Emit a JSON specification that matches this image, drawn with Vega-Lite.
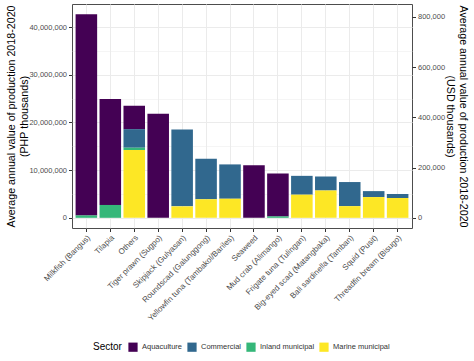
{
  "$schema": "https://vega.github.io/schema/vega-lite/v6.json",
  "autosize": {"type": "none"},
  "width": 340,
  "height": 224,
  "padding": {"left": 72, "top": 4, "right": 62, "bottom": 133},
  "background": "white",
  "config": {
    "font": "Liberation Sans",
    "view": {"stroke": "#4d4d4d", "strokeWidth": 1},
    "axis": {
      "domain": false,
      "labelColor": "#4d4d4d",
      "labelFontSize": 8,
      "titleFontSize": 10.7,
      "titleFontWeight": "normal",
      "titleColor": "black",
      "tickColor": "#333333",
      "tickSize": 3.5,
      "labelPadding": 2,
      "gridColor": "#ebebeb"
    }
  },
  "data": {
    "values": [
      {"species": "Milkfish (Bangus)", "sector": "Aquaculture", "value": 42200000},
      {"species": "Milkfish (Bangus)", "sector": "Inland municipal", "value": 500000},
      {"species": "Tilapia", "sector": "Aquaculture", "value": 22200000},
      {"species": "Tilapia", "sector": "Inland municipal", "value": 2700000},
      {"species": "Others", "sector": "Aquaculture", "value": 4900000},
      {"species": "Others", "sector": "Commercial", "value": 3900000},
      {"species": "Others", "sector": "Inland municipal", "value": 500000},
      {"species": "Others", "sector": "Marine municipal", "value": 14200000},
      {"species": "Tiger prawn (Sugpo)", "sector": "Aquaculture", "value": 21800000},
      {"species": "Skipjack (Gulyasan)", "sector": "Commercial", "value": 16100000},
      {"species": "Skipjack (Gulyasan)", "sector": "Marine municipal", "value": 2400000},
      {"species": "Roundscad (Galunggong)", "sector": "Commercial", "value": 8500000},
      {"species": "Roundscad (Galunggong)", "sector": "Marine municipal", "value": 3900000},
      {"species": "Yellowfin tuna (Tambakol/Bariles)", "sector": "Commercial", "value": 7200000},
      {"species": "Yellowfin tuna (Tambakol/Bariles)", "sector": "Marine municipal", "value": 4000000},
      {"species": "Seaweed", "sector": "Aquaculture", "value": 11000000},
      {"species": "Mud crab (Alimango)", "sector": "Aquaculture", "value": 9000000},
      {"species": "Mud crab (Alimango)", "sector": "Inland municipal", "value": 300000},
      {"species": "Frigate tuna (Tulingan)", "sector": "Commercial", "value": 3950000},
      {"species": "Frigate tuna (Tulingan)", "sector": "Marine municipal", "value": 4850000},
      {"species": "Big-eyed scad (Matangbaka)", "sector": "Commercial", "value": 2900000},
      {"species": "Big-eyed scad (Matangbaka)", "sector": "Marine municipal", "value": 5750000},
      {"species": "Bali sardinella (Tamban)", "sector": "Commercial", "value": 5050000},
      {"species": "Bali sardinella (Tamban)", "sector": "Marine municipal", "value": 2450000},
      {"species": "Squid (Pusit)", "sector": "Commercial", "value": 1250000},
      {"species": "Squid (Pusit)", "sector": "Marine municipal", "value": 4350000},
      {"species": "Threadfin bream (Bisugo)", "sector": "Commercial", "value": 850000},
      {"species": "Threadfin bream (Bisugo)", "sector": "Marine municipal", "value": 4150000}
    ]
  },
  "layer": [
    {
      "mark": {"type": "bar"},
      "encoding": {
        "x": {
          "field": "species",
          "type": "nominal",
          "sort": ["Milkfish (Bangus)", "Tilapia", "Others", "Tiger prawn (Sugpo)", "Skipjack (Gulyasan)", "Roundscad (Galunggong)", "Yellowfin tuna (Tambakol/Bariles)", "Seaweed", "Mud crab (Alimango)", "Frigate tuna (Tulingan)", "Big-eyed scad (Matangbaka)", "Bali sardinella (Tamban)", "Squid (Pusit)", "Threadfin bream (Bisugo)"],
          "scale": {"paddingInner": 0.1, "paddingOuter": 0.15},
          "axis": {
            "title": null,
            "labelAngle": -45,
            "labelAlign": "right",
            "labelBaseline": "top",
            "bandPosition": 0.5,
            "grid": true,
            "gridWidth": 1
          }
        },
        "y": {
          "field": "value",
          "type": "quantitative",
          "stack": "zero",
          "scale": {"domain": [-2135000, 44835000], "nice": false, "zero": false},
          "axis": {
            "values": [0, 5000000, 10000000, 15000000, 20000000, 25000000, 30000000, 35000000, 40000000],
            "labelExpr": "datum.value % 10000000 === 0 ? format(datum.value, ',d') : ''",
            "labelFontSize": 7.5,
            "tickOpacity": {"condition": {"test": "datum.value % 10000000 !== 0", "value": 0}, "value": 1},
            "gridWidth": {"condition": {"test": "datum.value % 10000000 !== 0", "value": 0.5}, "value": 1},
            "grid": true,
            "titlePadding": -1,
            "titleLineHeight": 13,
            "title": ["Average annual value of production 2018-2020", "(PHP thousands)"]
          }
        },
        "color": {
          "field": "sector",
          "type": "nominal",
          "scale": {
            "domain": ["Aquaculture", "Commercial", "Inland municipal", "Marine municipal"],
            "range": ["#440154", "#31688E", "#35B779", "#FDE725"]
          },
          "legend": {
            "title": "Sector",
            "orient": "none",
            "legendX": 21,
            "legendY": 338,
            "direction": "horizontal",
            "titleOrient": "left",
            "titleFontSize": 10,
            "titleFontWeight": "normal",
            "titleColor": "black",
            "titlePadding": 6,
            "labelFontSize": 7.5,
            "labelColor": "#333333",
            "symbolType": "square",
            "symbolSize": 85,
            "symbolStrokeWidth": 0,
            "symbolOpacity": 1,
            "labelOffset": 4,
            "columnPadding": 4
          }
        },
        "order": {"field": "sector", "sort": "descending"}
      }
    },
    {
      "mark": {"type": "rule", "opacity": 0},
      "encoding": {
        "y": {
          "datum": 0,
          "type": "quantitative",
          "scale": {"domain": [-40512, 850759], "nice": false, "zero": false},
          "axis": {
            "orient": "right",
            "values": [0, 200000, 400000, 600000, 800000],
            "format": ",d",
            "labelFontSize": 7.5,
            "grid": false,
            "titleAngle": 90,
            "titlePadding": 0,
            "title": ["Average annual value of production 2018-2020", "(USD thousands)"]
          }
        }
      }
    }
  ],
  "resolve": {"scale": {"y": "independent"}, "axis": {"y": "independent"}}
}
